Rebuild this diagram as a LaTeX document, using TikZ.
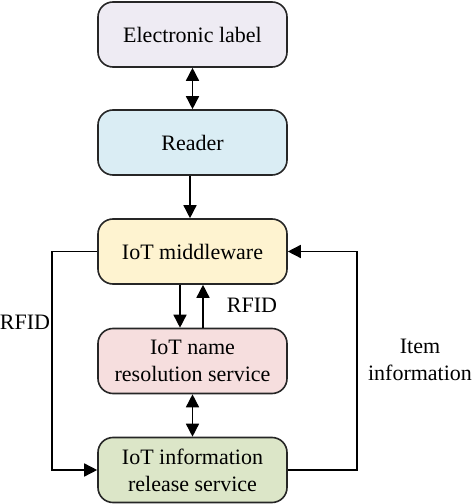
\documentclass[tikz,border=0pt]{standalone}
\usepackage{fontspec}
\setmainfont{Liberation Serif}
\usetikzlibrary{arrows.meta}
\definecolor{cEL}{HTML}{EEEBF3}
\definecolor{cRD}{HTML}{DAEDF4}
\definecolor{cMW}{HTML}{FEF3D0}
\definecolor{cNR}{HTML}{F6DEDE}
\definecolor{cIR}{HTML}{DCE6C8}
\tikzset{
  box/.style={draw=black!85, line width=1.6pt, rounded corners=15pt, minimum width=189pt, minimum height=65pt, align=center, inner sep=0pt, font=\fontsize{22}{27}\selectfont},
  conn/.style={line width=1.5pt, -{Triangle[length=13pt,width=13pt]}},
  bconn/.style={line width=1.5pt, {Triangle[length=13pt,width=13pt]}-{Triangle[length=13pt,width=13pt]}},
  lab/.style={font=\fontsize{22}{27}\selectfont, align=center, inner sep=0pt}
}
\begin{document}
\begin{tikzpicture}[x=1pt,y=1pt]
\useasboundingbox (0,0) rectangle (474,504);
\node[box, fill=cEL] (el) at (192.5,469.5) {Electronic label};
\node[box, fill=cRD] (rd) at (192.5,361.5) {Reader};
\node[box, fill=cMW] (mw) at (192.5,252.5) {IoT middleware};
\node[box, fill=cNR] (nr) at (192.5,143) {IoT name\\resolution service};
\node[box, fill=cIR] (ir) at (192.5,34) {IoT information\\release service};
\draw[bconn] (el.south) -- (rd.north);
\draw[conn] ([xshift=-2.5pt]rd.south) -- ([xshift=-2.5pt]mw.north);
\draw[conn] ([xshift=-12.5pt]mw.south) -- ([xshift=-12.5pt]nr.north);
\draw[conn] ([xshift=10.5pt]nr.north) -- ([xshift=10.5pt]mw.south);
\draw[bconn] (nr.south) -- (ir.north);
\coordinate (lc) at (52,0);
\coordinate (rc) at (357,0);
\draw[conn] (mw.west) -| (lc |- ir.west) -- (ir.west);
\draw[conn] (ir.east) -| (rc |- mw.east) -- (mw.east);
\node[lab] (rfid1) at (25,182) {RFID};
\node[lab] (rfid2) at (252,199) {RFID};
\node[lab] (item) at (420,144) {Item\\information};
\end{tikzpicture}
\end{document}
